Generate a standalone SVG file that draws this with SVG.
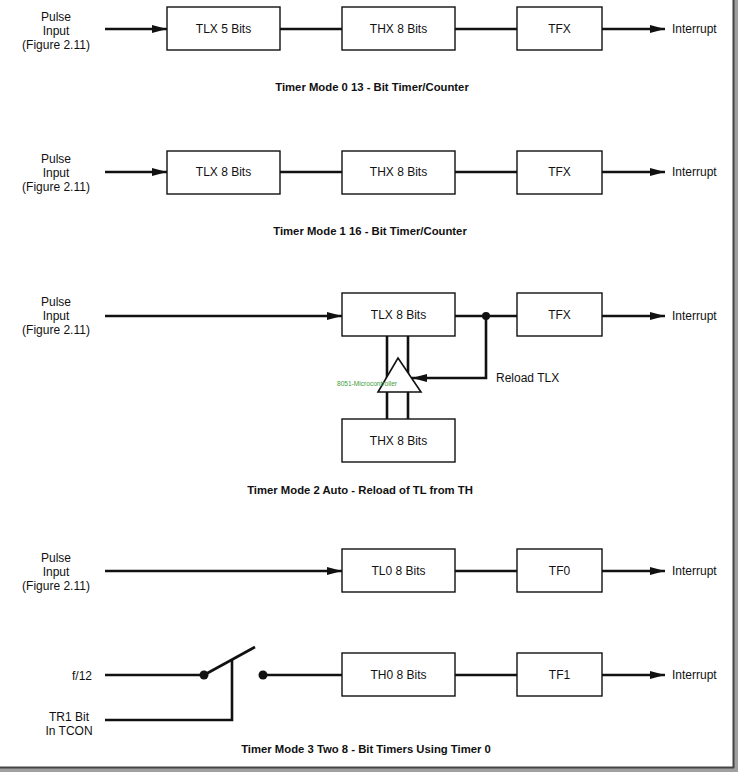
<svg xmlns="http://www.w3.org/2000/svg" width="738" height="772" viewBox="0 0 738 772">
<style>
  .box{fill:#fff;stroke:#111;stroke-width:1.4}
  .ln{stroke:#111;stroke-width:2.6;fill:none}
  .t{font-family:"Liberation Sans",Arial,sans-serif;font-size:12px;fill:#111}
  .c{text-anchor:middle}
  .ttl{font-family:"Liberation Sans",Arial,sans-serif;font-size:11.3px;font-weight:bold;fill:#111;text-anchor:middle}
</style>
<defs>
  <marker id="ah" markerUnits="userSpaceOnUse" markerWidth="16" markerHeight="10" refX="15" refY="5" orient="auto">
    <path d="M0,1 L15,5 L0,9 Z" fill="#111"/>
  </marker>
</defs>
<rect x="0" y="0" width="738" height="772" fill="#fff"/>
<rect x="734" y="0" width="4" height="772" fill="#a0a0a0"/>
<rect x="0" y="768" width="738" height="4" fill="#a0a0a0"/>
<line x1="733.5" y1="0" x2="733.5" y2="768" stroke="#444" stroke-width="2"/>
<line x1="0" y1="767.5" x2="734" y2="767.5" stroke="#444" stroke-width="2"/>

<g id="connectors">
  <!-- Mode 0 -->
  <line class="ln" x1="105" y1="29" x2="167" y2="29" marker-end="url(#ah)"/>
  <line class="ln" x1="280" y1="29" x2="342" y2="29"/>
  <line class="ln" x1="455" y1="29" x2="517" y2="29"/>
  <line class="ln" x1="602" y1="29" x2="665" y2="29" marker-end="url(#ah)"/>
  <!-- Mode 1 -->
  <line class="ln" x1="105" y1="172" x2="167" y2="172" marker-end="url(#ah)"/>
  <line class="ln" x1="280" y1="172" x2="342" y2="172"/>
  <line class="ln" x1="455" y1="172" x2="517" y2="172"/>
  <line class="ln" x1="602" y1="172" x2="665" y2="172" marker-end="url(#ah)"/>
  <!-- Mode 2 -->
  <line class="ln" x1="105" y1="316" x2="342" y2="316" marker-end="url(#ah)"/>
  <line class="ln" x1="455" y1="316" x2="517" y2="316"/>
  <line class="ln" x1="602" y1="316" x2="665" y2="316" marker-end="url(#ah)"/>
  <circle cx="486" cy="316" r="4" fill="#111"/>
  <polyline class="ln" points="486,316 486,378 412,378" marker-end="url(#ah)"/>
  <line class="ln" x1="387" y1="336" x2="387" y2="419"/>
  <line class="ln" x1="408" y1="336" x2="408" y2="419"/>
  <polygon points="398,358 421,392 378,392" fill="#fff" stroke="#111" stroke-width="1.6"/>
  <!-- Mode 3 -->
  <line class="ln" x1="105" y1="571" x2="342" y2="571" marker-end="url(#ah)"/>
  <line class="ln" x1="455" y1="571" x2="517" y2="571"/>
  <line class="ln" x1="602" y1="571" x2="665" y2="571" marker-end="url(#ah)"/>
  <line class="ln" x1="105" y1="675" x2="204" y2="675"/>
  <circle cx="204" cy="675" r="4.5" fill="#111"/>
  <line class="ln" x1="204" y1="675" x2="255" y2="647"/>
  <polyline class="ln" points="232,660 232,720 105,720"/>
  <circle cx="263" cy="675" r="4.5" fill="#111"/>
  <line class="ln" x1="263" y1="675" x2="342" y2="675"/>
  <line class="ln" x1="455" y1="675" x2="517" y2="675"/>
  <line class="ln" x1="602" y1="675" x2="665" y2="675" marker-end="url(#ah)"/>
</g>

<!-- Mode 0 -->
<g id="m0-input"><text class="t c" x="56" y="21">Pulse</text><text class="t c" x="56" y="35">Input</text><text class="t c" x="56" y="49">(Figure 2.11)</text></g>
<g id="m0-tlx"><rect class="box" x="167" y="7" width="113" height="43"/><text class="t c" x="223.5" y="33">TLX 5 Bits</text></g>
<g id="m0-thx"><rect class="box" x="342" y="7" width="113" height="43"/><text class="t c" x="398.5" y="33">THX 8 Bits</text></g>
<g id="m0-tfx"><rect class="box" x="517" y="7" width="85" height="43"/><text class="t c" x="559.5" y="33">TFX</text></g>
<g id="m0-int"><text class="t" x="672" y="33">Interrupt</text></g>
<text class="ttl" x="372" y="91">Timer Mode 0 13 - Bit Timer/Counter</text>

<!-- Mode 1 -->
<g id="m1-input"><text class="t c" x="56" y="163">Pulse</text><text class="t c" x="56" y="177">Input</text><text class="t c" x="56" y="191">(Figure 2.11)</text></g>
<g id="m1-tlx"><rect class="box" x="167" y="151" width="113" height="43"/><text class="t c" x="223.5" y="176">TLX 8 Bits</text></g>
<g id="m1-thx"><rect class="box" x="342" y="151" width="113" height="43"/><text class="t c" x="398.5" y="176">THX 8 Bits</text></g>
<g id="m1-tfx"><rect class="box" x="517" y="151" width="85" height="43"/><text class="t c" x="559.5" y="176">TFX</text></g>
<g id="m1-int"><text class="t" x="672" y="176">Interrupt</text></g>
<text class="ttl" x="370" y="235">Timer Mode 1 16 - Bit Timer/Counter</text>

<!-- Mode 2 -->
<g id="m2-input"><text class="t c" x="56" y="306">Pulse</text><text class="t c" x="56" y="320">Input</text><text class="t c" x="56" y="334">(Figure 2.11)</text></g>
<g id="m2-tlx"><rect class="box" x="342" y="293" width="113" height="43"/><text class="t c" x="398.5" y="319">TLX 8 Bits</text></g>
<g id="m2-tfx"><rect class="box" x="517" y="293" width="85" height="43"/><text class="t c" x="559.5" y="319">TFX</text></g>
<g id="m2-thx"><rect class="box" x="342" y="419" width="113" height="43"/><text class="t c" x="398.5" y="445">THX 8 Bits</text></g>
<g id="m2-int"><text class="t" x="672" y="320">Interrupt</text></g>
<g id="m2-reload"><text class="t" x="496" y="382">Reload TLX</text></g>
<text x="337" y="386" font-family="Liberation Sans,Arial,sans-serif" font-size="6.6" fill="#3e9e3e" textLength="60">8051-Microcontroller</text>
<text class="ttl" x="360" y="494">Timer Mode 2 Auto - Reload of TL from TH</text>

<!-- Mode 3 -->
<g id="m3-input"><text class="t c" x="56" y="562">Pulse</text><text class="t c" x="56" y="576">Input</text><text class="t c" x="56" y="590">(Figure 2.11)</text></g>
<g id="m3-tl0"><rect class="box" x="342" y="549" width="113" height="43"/><text class="t c" x="398.5" y="575">TL0 8 Bits</text></g>
<g id="m3-tf0"><rect class="box" x="517" y="549" width="85" height="43"/><text class="t c" x="559.5" y="575">TF0</text></g>
<g id="m3-int0"><text class="t" x="672" y="575">Interrupt</text></g>
<g id="m3-f12"><text class="t" x="92" y="680" text-anchor="end">f/12</text></g>
<g id="m3-tr1"><text class="t c" x="69" y="721">TR1 Bit</text><text class="t c" x="69" y="735">In TCON</text></g>
<g id="m3-th0"><rect class="box" x="342" y="653" width="113" height="43"/><text class="t c" x="398.5" y="679">TH0 8 Bits</text></g>
<g id="m3-tf1"><rect class="box" x="517" y="653" width="85" height="43"/><text class="t c" x="559.5" y="679">TF1</text></g>
<g id="m3-int1"><text class="t" x="672" y="679">Interrupt</text></g>
<text class="ttl" x="366" y="753">Timer Mode 3 Two 8 - Bit Timers Using Timer 0</text>
</svg>
